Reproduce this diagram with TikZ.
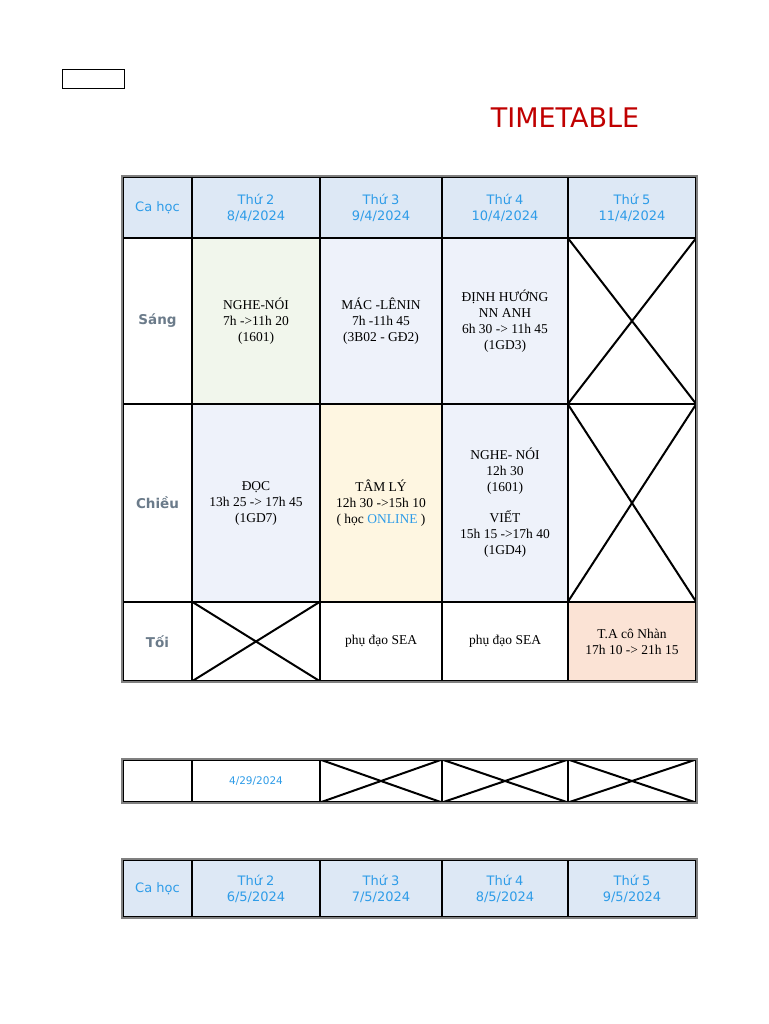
\documentclass[tikz,border=0pt]{standalone}
\usepackage{fontspec}
\setmainfont{Liberation Serif}
\newfontfamily\dv{DejaVu Sans}
\definecolor{hdr}{HTML}{DDE8F5}
\definecolor{hblue}{HTML}{2E9CE8}
\definecolor{lgreen}{HTML}{F1F6EC}
\definecolor{lblue}{HTML}{EEF2FA}
\definecolor{lyel}{HTML}{FEF6E1}
\definecolor{lorg}{HTML}{FBE3D5}
\definecolor{lbl}{HTML}{6B7B8A}
\definecolor{ttl}{HTML}{C00000}
\newcommand\cel[7]{\node[cellbox,#6,minimum width={#4-#2},minimum height={#5-#3}] (#1) at ({(#2+#4)/2},{(#3+#5)/2}) {#7};}
\newcommand\xcross[1]{\draw[crossline] (#1.north west)--(#1.south east) (#1.south west)--(#1.north east);}
\begin{document}
\begin{tikzpicture}[x=1pt,y=-1pt,
 cellbox/.style={draw=black,line width=1.5pt,inner sep=0pt,align=center,font=\fontsize{13.5}{16}\selectfont},
 head/.style={fill=hdr,text=hblue,font=\dv\fontsize{13}{16}\selectfont},
 rowl/.style={text=lbl,font=\dv\bfseries\fontsize{13.5}{16}\selectfont},
 crossline/.style={line width=2pt}]
\useasboundingbox[fill=white] (0,0) rectangle (768,1024);
\node[draw,line width=1pt,minimum width=62,minimum height=19,inner sep=0pt] (box) at (93,79.5) {};
\node[text=ttl,font=\dv\fontsize{27}{30}\selectfont] (title) at (565,118) {TIMETABLE};
% table 1
\cel{h0}{123}{177}{192}{238}{head}{Ca học}
\cel{h1}{192}{177}{320}{238}{head}{Thứ 2\\8/4/2024}
\cel{h2}{320}{177}{442}{238}{head}{Thứ 3\\9/4/2024}
\cel{h3}{442}{177}{568}{238}{head}{Thứ 4\\10/4/2024}
\cel{h4}{568}{177}{696}{238}{head}{Thứ 5\\11/4/2024}
\cel{s0}{123}{238}{192}{404}{rowl}{Sáng}
\cel{s1}{192}{238}{320}{404}{fill=lgreen}{NGHE-NÓI\\7h ->11h 20\\(1601)}
\cel{s2}{320}{238}{442}{404}{fill=lblue}{MÁC -LÊNIN\\7h -11h 45\\(3B02 - GĐ2)}
\cel{s3}{442}{238}{568}{404}{fill=lblue}{ĐỊNH HƯỚNG\\NN ANH\\6h 30 -> 11h 45\\(1GD3)}
\cel{s4}{568}{238}{696}{404}{}{}
\cel{c0}{123}{404}{192}{602}{rowl}{Chiều}
\cel{c1}{192}{404}{320}{602}{fill=lblue}{ĐỌC\\13h 25 -> 17h 45\\(1GD7)}
\cel{c2}{320}{404}{442}{602}{fill=lyel}{TÂM LÝ\\12h 30 ->15h 10\\( học {\color{hblue}ONLINE} )}
\cel{c3}{442}{404}{568}{602}{fill=lblue}{NGHE- NÓI\\12h 30\\(1601)\\[15pt]VIẾT\\15h 15 ->17h 40\\(1GD4)}
\cel{c4}{568}{404}{696}{602}{}{}
\cel{t0}{123}{602}{192}{681}{rowl}{Tối}
\cel{t1}{192}{602}{320}{681}{}{}
\cel{t2}{320}{602}{442}{681}{}{phụ đạo SEA}
\cel{t3}{442}{602}{568}{681}{}{phụ đạo SEA}
\cel{t4}{568}{602}{696}{681}{fill=lorg}{T.A cô Nhàn\\17h 10 -> 21h 15}
\xcross{s4}\xcross{c4}\xcross{t1}
\draw[gray,line width=1.2pt] (122,176) rectangle (697,682);
% table 2
\cel{a0}{123}{760}{192}{802}{}{}
\cel{a1}{192}{760}{320}{802}{text=hblue,font=\dv\fontsize{10.5}{12}\selectfont}{4/29/2024}
\cel{a2}{320}{760}{442}{802}{}{}
\cel{a3}{442}{760}{568}{802}{}{}
\cel{a4}{568}{760}{696}{802}{}{}
\xcross{a2}\xcross{a3}\xcross{a4}
\draw[gray,line width=1.2pt] (122,759) rectangle (697,803);
% table 3
\cel{b0}{123}{860}{192}{917}{head}{Ca học}
\cel{b1}{192}{860}{320}{917}{head}{Thứ 2\\6/5/2024}
\cel{b2}{320}{860}{442}{917}{head}{Thứ 3\\7/5/2024}
\cel{b3}{442}{860}{568}{917}{head}{Thứ 4\\8/5/2024}
\cel{b4}{568}{860}{696}{917}{head}{Thứ 5\\9/5/2024}
\draw[gray,line width=1.2pt] (122,859) rectangle (697,918);
\end{tikzpicture}
\end{document}
